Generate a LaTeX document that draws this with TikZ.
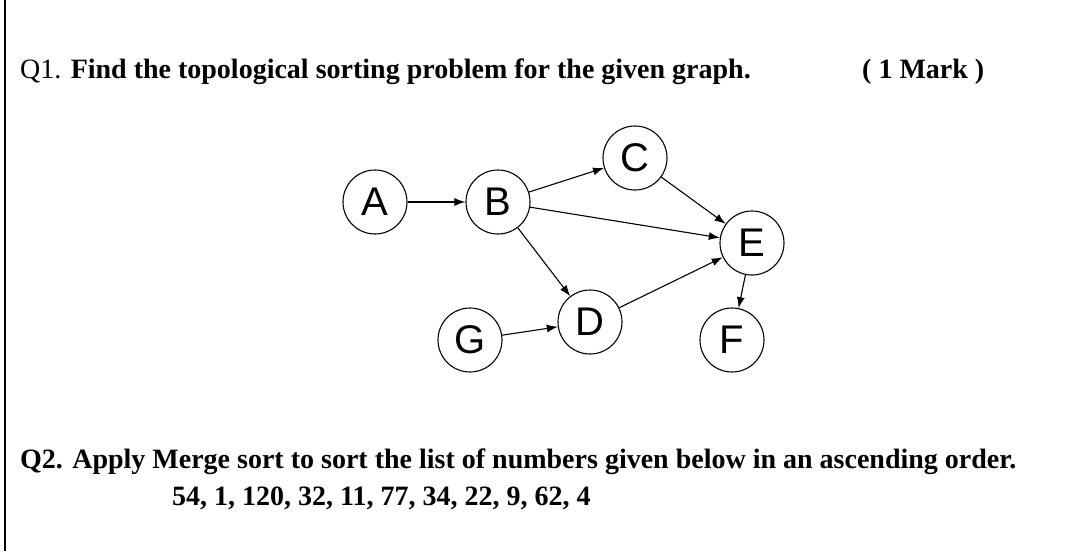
\documentclass[tikz,border=0pt]{standalone}
\usepackage{fontspec}
\setmainfont{Liberation Serif}
\newfontfamily\gsans{Liberation Sans}
\usetikzlibrary{arrows.meta}
\begin{document}
\begin{tikzpicture}[x=1pt,y=-1pt,
  vtx/.style={circle,draw,line width=1.1pt,minimum size=64pt,inner sep=0pt,font=\gsans\fontsize{40}{40}\selectfont},
  edge/.style={-{Latex[length=11pt,width=8pt]},line width=1.1pt},
  txt/.style={anchor=base west,inner sep=0pt,font=\fontsize{28}{33}\selectfont}]
\useasboundingbox (0,0) rectangle (1072,551);
\draw[line width=2pt] (5,0) -- (5,551);
\node[txt] (q1) at (20,78) {Q1. \textbf{Find the topological sorting problem for the given graph.}};
\node[txt] (mk) at (862,78) {\textbf{( 1 Mark )}};
\node[vtx] (A) at (375,202) {A};
\node[vtx] (B) at (498,202) {B};
\node[vtx] (C) at (635,158) {C};
\node[vtx] (E) at (752,243) {E};
\node[vtx] (D) at (590,322) {D};
\node[vtx] (G) at (470,340) {G};
\node[vtx] (F) at (732,340) {F};
\draw[edge] (A) -- (B);
\draw[edge] (B) -- (C);
\draw[edge] (B) -- (E);
\draw[edge] (B) -- (D);
\draw[edge] (C) -- (E);
\draw[edge] (D) -- (E);
\draw[edge] (G) -- (D);
\draw[edge] (E) -- (F);
\node[txt] (q2) at (20,468) {\textbf{Q2. Apply Merge sort to sort the list of numbers given below in an ascending order.}};
\node[txt] (nums) at (172,505) {\textbf{54, 1, 120, 32, 11, 77, 34, 22, 9, 62, 4}};
\end{tikzpicture}
\end{document}
